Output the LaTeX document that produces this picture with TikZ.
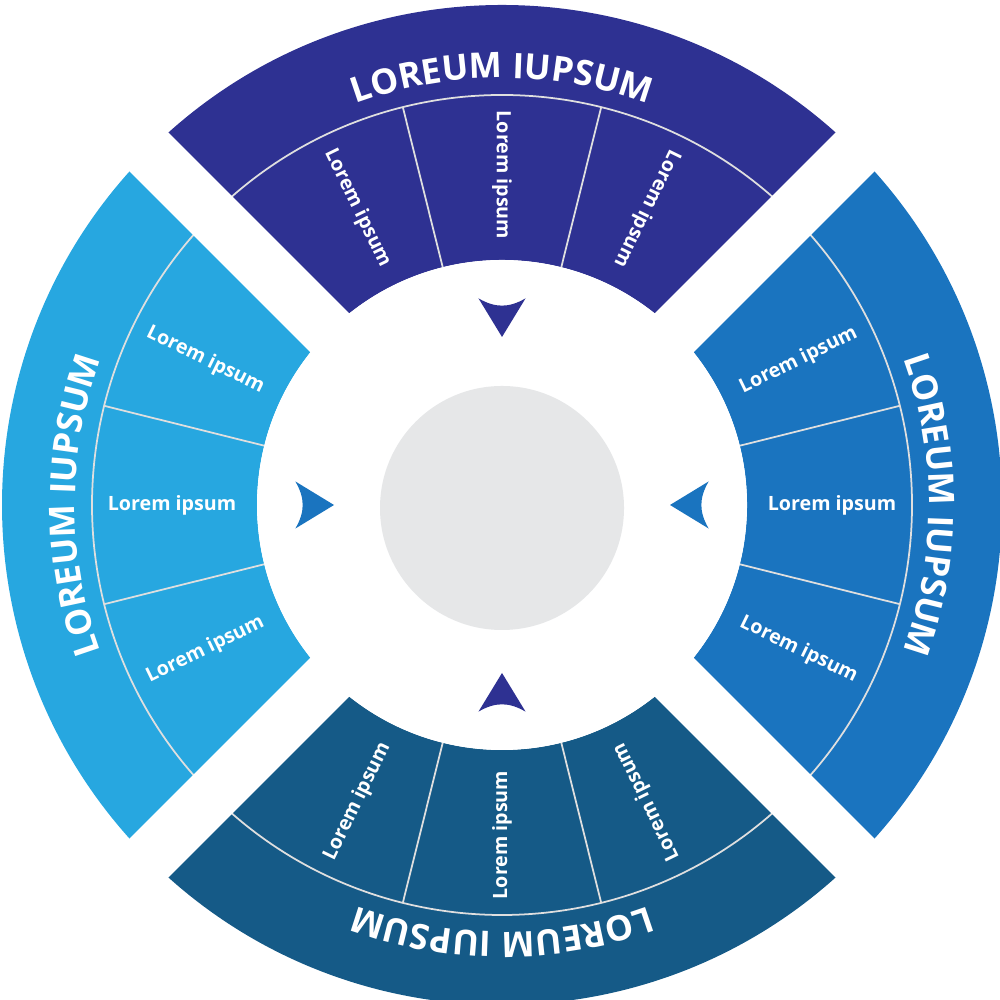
\documentclass[tikz,border=0pt]{standalone}
\usepackage{fontspec}
\setmainfont{Open Sans}
\usetikzlibrary{calc,decorations.text}
\definecolor{ctop}{HTML}{2E3192}
\definecolor{cright}{HTML}{1A74BF}
\definecolor{cbot}{HTML}{155A87}
\definecolor{cleft}{HTML}{27A7E0}
\definecolor{cgray}{HTML}{E6E7E8}
\tikzset{
  cell/.style={text=white,font=\bfseries\fontsize{5.6}{7}\selectfont,inner sep=0pt},
  divl/.style={draw=white!75!gray,line width=0.5pt},
  head/.style={decorate,decoration={text along path,text align=center,
     text={|\bfseries\fontsize{10}{12}\selectfont|LOREUM IUPSUM},text color=white}},
}
\begin{document}
\begin{tikzpicture}
\useasboundingbox (0,0) rectangle (10,10);
\coordinate (C) at (5.02,4.95);
% sectors
\foreach \a/\c in {90/ctop,0/cright,270/cbot,180/cleft}{
  \fill[\c] ($(C)+(\a-45:5)$) arc[start angle=\a-45,end angle=\a+45,radius=5]
     -- ($(C)+(\a+45:2.45)$) arc[start angle=\a+45,end angle=\a-45,radius=2.45] -- cycle;
  \draw[divl] ($(C)+(\a-45:4.1)$) arc[start angle=\a-45,end angle=\a+45,radius=4.1];
  \foreach \d in {-14,14}{
    \draw[divl] ($(C)+(\a+\d:2.45)$) -- ($(C)+(\a+\d:4.1)$);
  }
}
% gaps
\draw[white,line width=0.55cm] ($(C)+(45:5.3)$) -- ($(C)+(225:5.3)$);
\draw[white,line width=0.55cm] ($(C)+(135:5.3)$) -- ($(C)+(315:5.3)$);
\fill[white] (C) circle (2.45);
\fill[cgray] (5.02,4.92) circle (1.22);
% headings
\path[head] ($(C)+(118:4.27)$) arc[start angle=118,end angle=62,radius=4.27];
\path[head] ($(C)+(28:4.27)$) arc[start angle=28,end angle=-28,radius=4.27];
\path[head] ($(C)+(-62:4.27)$) arc[start angle=-62,end angle=-118,radius=4.27];
\path[head] ($(C)+(208:4.27)$) arc[start angle=208,end angle=152,radius=4.27];
% cells
\foreach \a/\n in {90/t,0/r,270/b,180/l}{
  \foreach \d/\m in {-26/1,0/2,26/3}{
    \pgfmathsetmacro\ang{\a+\d}
    \pgfmathsetmacro\rot{\a==0 ? \ang : \ang-180}
    \node[cell,rotate=\rot] (\n\m) at ($(C)+(\ang:3.3)$) {Lorem ipsum};
  }
}
% arrows
\foreach \a/\c in {90/ctop,0/cright,270/ctop,180/cright}{
  \fill[\c] ($(C)+(\a:1.68)$) -- ($(C)+(\a+6.5:2.08)$)
    .. controls ($(C)+(\a+2:1.97)$) and ($(C)+(\a-2:1.97)$) .. ($(C)+(\a-6.5:2.08)$) -- cycle;
}
\end{tikzpicture}
\end{document}
